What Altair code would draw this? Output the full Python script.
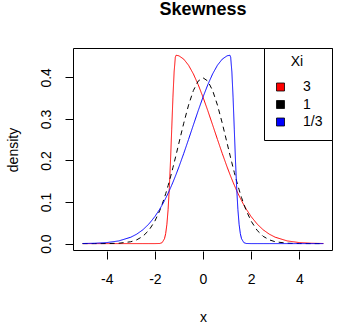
import altair as alt
import pandas as pd

# ---- data ----
x_vals = [-5, -4.5, -4, -3.5, -3, -2.75, -2.5, -2.25, -2, -1.8, -1.7, -1.6, -1.55, -1.5,
          -1.45, -1.4, -1.35, -1.3, -1.25, -1.2, -1.15, -1.12, -1, -0.8, -0.6, -0.4, -0.2,
          0, 0.2, 0.4, 0.6, 0.8, 1, 1.12, 1.15, 1.2, 1.25, 1.3, 1.35, 1.4, 1.45, 1.5, 1.55,
          1.6, 1.7, 1.8, 2, 2.25, 2.5, 2.75, 3, 3.5, 4, 4.5, 5]

dens_xi3 = [0, 0, 0, 0, 0, 0, 0, 0, 0.000002, 0.00028, 0.00214, 0.01171, 0.02423, 0.04626,
            0.08152, 0.13247, 0.19863, 0.27472, 0.3506, 0.41272, 0.4482, 0.45316, 0.45178,
            0.44379, 0.42906, 0.40826, 0.38233, 0.35239, 0.31966, 0.28538, 0.25075, 0.21686,
            0.18457, 0.16628, 0.16185, 0.15461, 0.14754, 0.14066, 0.13397, 0.12747, 0.12116,
            0.11505, 0.10914, 0.10343, 0.09261, 0.0826, 0.06492, 0.04697, 0.03316, 0.02283,
            0.01534, 0.00642, 0.00243, 0.00083, 0.00026]

dens_xi1 = [0.0000015, 0.000016, 0.000134, 0.000873, 0.004432, 0.009094, 0.017528, 0.03174,
            0.053991, 0.07895, 0.094049, 0.110921, 0.120009, 0.129518, 0.139431, 0.149727,
            0.160383, 0.171369, 0.182649, 0.194186, 0.20594, 0.21307, 0.241971, 0.289692,
            0.333225, 0.36827, 0.391043, 0.398942, 0.391043, 0.36827, 0.333225, 0.289692,
            0.241971, 0.21307, 0.20594, 0.194186, 0.182649, 0.171369, 0.160383, 0.149727,
            0.139431, 0.129518, 0.120009, 0.110921, 0.094049, 0.07895, 0.053991, 0.03174,
            0.017528, 0.009094, 0.004432, 0.000873, 0.000134, 0.000016, 0.0000015]

dens_xi13 = [0.00026, 0.00083, 0.00243, 0.00642, 0.01534, 0.02283, 0.03316, 0.04697, 0.06492,
             0.0826, 0.09261, 0.10343, 0.10914, 0.11505, 0.12116, 0.12747, 0.13397, 0.14066,
             0.14754, 0.15461, 0.16185, 0.16628, 0.18457, 0.21686, 0.25075, 0.28538, 0.31966,
             0.35239, 0.38233, 0.40826, 0.42906, 0.44379, 0.45178, 0.45316, 0.4482, 0.41272,
             0.3506, 0.27472, 0.19863, 0.13247, 0.08152, 0.04626, 0.02423, 0.01171, 0.00214,
             0.00028, 0.000002, 0, 0, 0, 0, 0, 0, 0, 0]

series_names = ["3", "1", "1/3"]
series_colors = ["#FF0000", "#000000", "#0000FF"]
x_ticks = [-4, -2, 0, 2, 4]
y_ticks = [0.0, 0.1, 0.2, 0.3, 0.4]
title_text = "Skewness"

rows = []
for name, vals in zip(series_names, [dens_xi3, dens_xi1, dens_xi13]):
    for xv, yv in zip(x_vals, vals):
        rows.append({"x": xv, "density": yv, "Xi": name})
df = pd.DataFrame(rows)

FONT = "Liberation Sans"
FS = 14
W, H = 260, 203

xscale = alt.Scale(domain=[-5.4, 5.4], nice=False, zero=False)
yscale = alt.Scale(domain=[-0.0178, 0.4706], nice=False, zero=False)

lines = alt.Chart(df).mark_line(strokeWidth=1, clip=True).encode(
    x=alt.X("x:Q", scale=xscale,
            axis=alt.Axis(values=x_ticks, title="x", grid=False, domain=False,
                          labelExpr="'' + datum.value",
                          tickSize=8, tickColor="black", labelPadding=13,
                          labelFontSize=FS, labelColor="black", labelFont=FONT,
                          titleFont=FONT, titleFontSize=FS, titleFontWeight="normal",
                          titleColor="black", titleY=66, titleBaseline="middle")),
    y=alt.Y("density:Q", scale=yscale,
            axis=alt.Axis(values=y_ticks, format=".1f", title="density", grid=False,
                          domain=False, tickSize=8, tickColor="black", labelAngle=-90,
                          labelAlign="center", labelBaseline="alphabetic", labelPadding=15,
                          labelFontSize=FS, labelColor="black", labelFont=FONT,
                          titleFont=FONT, titleFontSize=FS, titleFontWeight="normal",
                          titleColor="black", titleX=-60, titleBaseline="middle")),
    color=alt.Color("Xi:N", scale=alt.Scale(domain=series_names, range=series_colors),
                    legend=None),
    strokeDash=alt.StrokeDash("Xi:N", scale=alt.Scale(domain=series_names,
                              range=[[1, 0], [5, 4], [1, 0]]), legend=None),
    detail="Xi:N",
)

frame = alt.Chart(pd.DataFrame({"a": [0]})).mark_rect(
    fill=None, stroke="black", strokeWidth=1).encode(
    x=alt.value(0.5), x2=alt.value(W - 0.5), y=alt.value(0.5), y2=alt.value(H - 0.5))

title = alt.Chart(pd.DataFrame({"t": [title_text]})).mark_text(
    font=FONT, fontSize=18, fontWeight="bold", color="black",
    align="center", baseline="middle").encode(
    x=alt.value(W / 2), y=alt.value(-38), text="t:N")

# ---- manual R-style legend ----
leg_box = alt.Chart(pd.DataFrame({"a": [0]})).mark_rect(
    fill="white", stroke="black", strokeWidth=1).encode(
    x=alt.value(191.5), x2=alt.value(259.5), y=alt.value(0.5), y2=alt.value(92.5))

leg_title = alt.Chart(pd.DataFrame({"t": ["Xi"]})).mark_text(
    font=FONT, fontSize=FS, color="black", align="center", baseline="middle").encode(
    x=alt.value(224), y=alt.value(14), text="t:N")

leg_layers = []
row_y = [39, 56.5, 74]
for name, col, ry in zip(series_names, series_colors, row_y):
    d = pd.DataFrame({"lab": [name]})
    leg_layers.append(alt.Chart(d).mark_rect(fill=col, stroke="black", strokeWidth=0.8).encode(
        x=alt.value(203.5), x2=alt.value(211.5), y=alt.value(ry - 4), y2=alt.value(ry + 4)))
    leg_layers.append(alt.Chart(d).mark_text(
        font=FONT, fontSize=FS, color="black", align="left", baseline="middle").encode(
        x=alt.value(230), y=alt.value(ry), text="lab:N"))

chart = alt.layer(lines, frame, title, leg_box, leg_title, *leg_layers).properties(
    width=W, height=H,
    padding={"left": 73, "top": 48, "right": 6, "bottom": 75},
    autosize=alt.AutoSizeParams(type="none"),
    background="white",
).configure_view(stroke=None)

chart.save("out.html", embed_options={"renderer": "svg", "actions": False})
